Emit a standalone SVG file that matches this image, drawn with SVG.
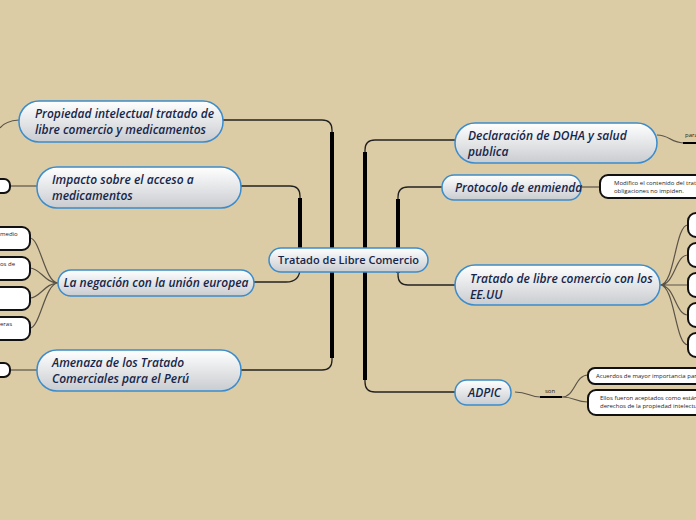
<svg xmlns="http://www.w3.org/2000/svg" width="696" height="520" viewBox="0 0 696 520">
<defs>
<linearGradient id="g" x1="0" y1="0" x2="0" y2="1"><stop offset="0" stop-color="#ffffff"/><stop offset="1" stop-color="#c9ccd0"/></linearGradient>
</defs>
<style>
.n{fill:url(#g);stroke:#3b8ccc;stroke-width:1.5}
.t{font-family:"Open Sans","Noto Sans",sans-serif;font-style:italic;font-weight:600;font-size:12px;fill:#16264a}
.c{font-family:"Open Sans","Noto Sans",sans-serif;font-weight:600;font-size:11px;fill:#16264a}
.s{fill:#ffffff;stroke:#111;stroke-width:2}
.st{font-family:"Open Sans","Noto Sans",sans-serif;font-size:6px;fill:#222}
.l{fill:none;stroke:#5a5448;stroke-width:1.2}
.h{fill:none;stroke:#222;stroke-width:1.3}
.k{fill:none;stroke:#000;stroke-width:4}
</style>
<rect width="696" height="520" fill="#dccca6"/>
<g id="connectors">
<path class="h" d="M223,120 H322 Q332,120 332,130 V360 Q332,370 322,370 H241"/>
<path class="k" d="M332,132 V358"/>
<path class="h" d="M241,186 H290 Q300,186 300,196 V268 Q300,282 286,282 H254"/>
<path class="k" d="M300,198 V268"/>
<path class="l" d="M269,260 H332"/>
<path class="h" d="M455,140 H375 Q365,140 365,150 V382 Q365,392 375,392 H455"/>
<path class="k" d="M365,152 V380"/>
<path class="h" d="M442,187 H408 Q398,187 398,197 V275 Q398,285 408,285 H455"/>
<path class="k" d="M398,199 V273"/>
<path class="l" d="M428,260 H365"/>
<path class="l" d="M19,120 Q5,121 0,128"/>
<path class="l" d="M37,186 H10"/>
<path class="l" d="M37,370 H10"/>
<path class="l" d="M58,283 C45,283 40,238 30,238 M58,283 C45,283 40,268 30,268 M58,283 C45,283 40,298 30,298 M58,283 C45,283 40,328 30,328"/>
<path class="l" d="M657,135 C670,135 670,143 685,143"/>
<path class="k" style="stroke-width:2" d="M683,143 H696"/>
<path class="l" d="M581,187 H600"/>
<path class="l" d="M660,285 C675,285 675,225 688,225 M660,285 C675,285 675,255 688,255 M660,285 H688 M660,285 C675,285 675,315 688,315 M660,285 C675,285 675,345 688,345"/>
<path class="l" d="M515,392 C528,392 530,397 540,397"/>
<path class="k" style="stroke-width:2" d="M540,397 H562"/>
<path class="l" d="M562,397 C575,397 575,375 588,375 M562,397 C575,397 575,402 588,402"/>
</g>
<g id="center"><rect class="n" x="269" y="248" width="159" height="24" rx="12"/><text class="c" x="348.5" y="264" text-anchor="middle">Tratado de Libre Comercio</text></g>
<g id="propiedad"><rect class="n" x="19" y="101" width="204" height="41" rx="20"/><text class="t" x="35" y="118">Propiedad intelectual tratado de</text><text class="t" x="35" y="134">libre comercio y medicamentos</text></g>
<g id="impacto"><rect class="n" x="37" y="167" width="204" height="41" rx="20"/><text class="t" x="52" y="184">Impacto sobre el acceso a</text><text class="t" x="52" y="200">medicamentos</text></g>
<g id="negacion"><rect class="n" x="58" y="270" width="196" height="26" rx="13"/><text class="t" x="156" y="287" text-anchor="middle">La negación con la unión europea</text></g>
<g id="amenaza"><rect class="n" x="37" y="350" width="204" height="41" rx="20"/><text class="t" x="52" y="367">Amenaza de los Tratado</text><text class="t" x="52" y="383">Comerciales para el Perú</text></g>
<g id="left-children">
<rect class="s" x="-20" y="179" width="30" height="14" rx="6"/>
<rect class="s" x="-20" y="363" width="30" height="14" rx="6"/>
<rect class="s" x="-40" y="227" width="70" height="23" rx="8"/><text class="st" x="0" y="236">medio</text>
<rect class="s" x="-40" y="257" width="70" height="23" rx="8"/><text class="st" x="0" y="266">os de</text>
<rect class="s" x="-40" y="287" width="70" height="23" rx="8"/>
<rect class="s" x="-40" y="317" width="70" height="23" rx="8"/><text class="st" x="0" y="326">eras</text>
</g>
<g id="doha"><rect class="n" x="455" y="123" width="202" height="40" rx="20"/><text class="t" x="468" y="140">Declaración de DOHA y salud</text><text class="t" x="468" y="156">publica</text><text class="st" x="685" y="137">para</text></g>
<g id="protocolo"><rect class="n" x="442" y="175" width="139" height="25" rx="12"/><text class="t" x="455" y="192">Protocolo de enmienda</text>
<rect class="s" x="600" y="175" width="120" height="23" rx="8"/><text class="st" x="614" y="185">Modifico el  contenido del trat</text><text class="st" x="614" y="193">obligaciones no impiden.</text></g>
<g id="eeuu"><rect class="n" x="455" y="265" width="205" height="40" rx="20"/><text class="t" x="470" y="283">Tratado de libre comercio con los</text><text class="t" x="470" y="299">EE.UU</text>
<rect class="s" x="688" y="213" width="30" height="24" rx="8"/>
<rect class="s" x="688" y="243" width="30" height="24" rx="8"/>
<rect class="s" x="688" y="273" width="30" height="24" rx="8"/>
<rect class="s" x="688" y="303" width="30" height="24" rx="8"/>
<rect class="s" x="688" y="333" width="30" height="24" rx="8"/></g>
<g id="adpic"><rect class="n" x="455" y="380" width="56" height="25" rx="12"/><text class="t" x="468" y="397">ADPIC</text><text class="st" x="545" y="393">son</text>
<rect class="s" x="588" y="368" width="130" height="16" rx="7"/><text class="st" x="596" y="378">Acuerdos de mayor importancia par</text>
<rect class="s" x="588" y="390" width="130" height="25" rx="8"/><text class="st" x="600" y="400">Ellos fueron aceptados como están</text><text class="st" x="600" y="408">derechos de la propiedad intelectu</text></g>
</svg>
